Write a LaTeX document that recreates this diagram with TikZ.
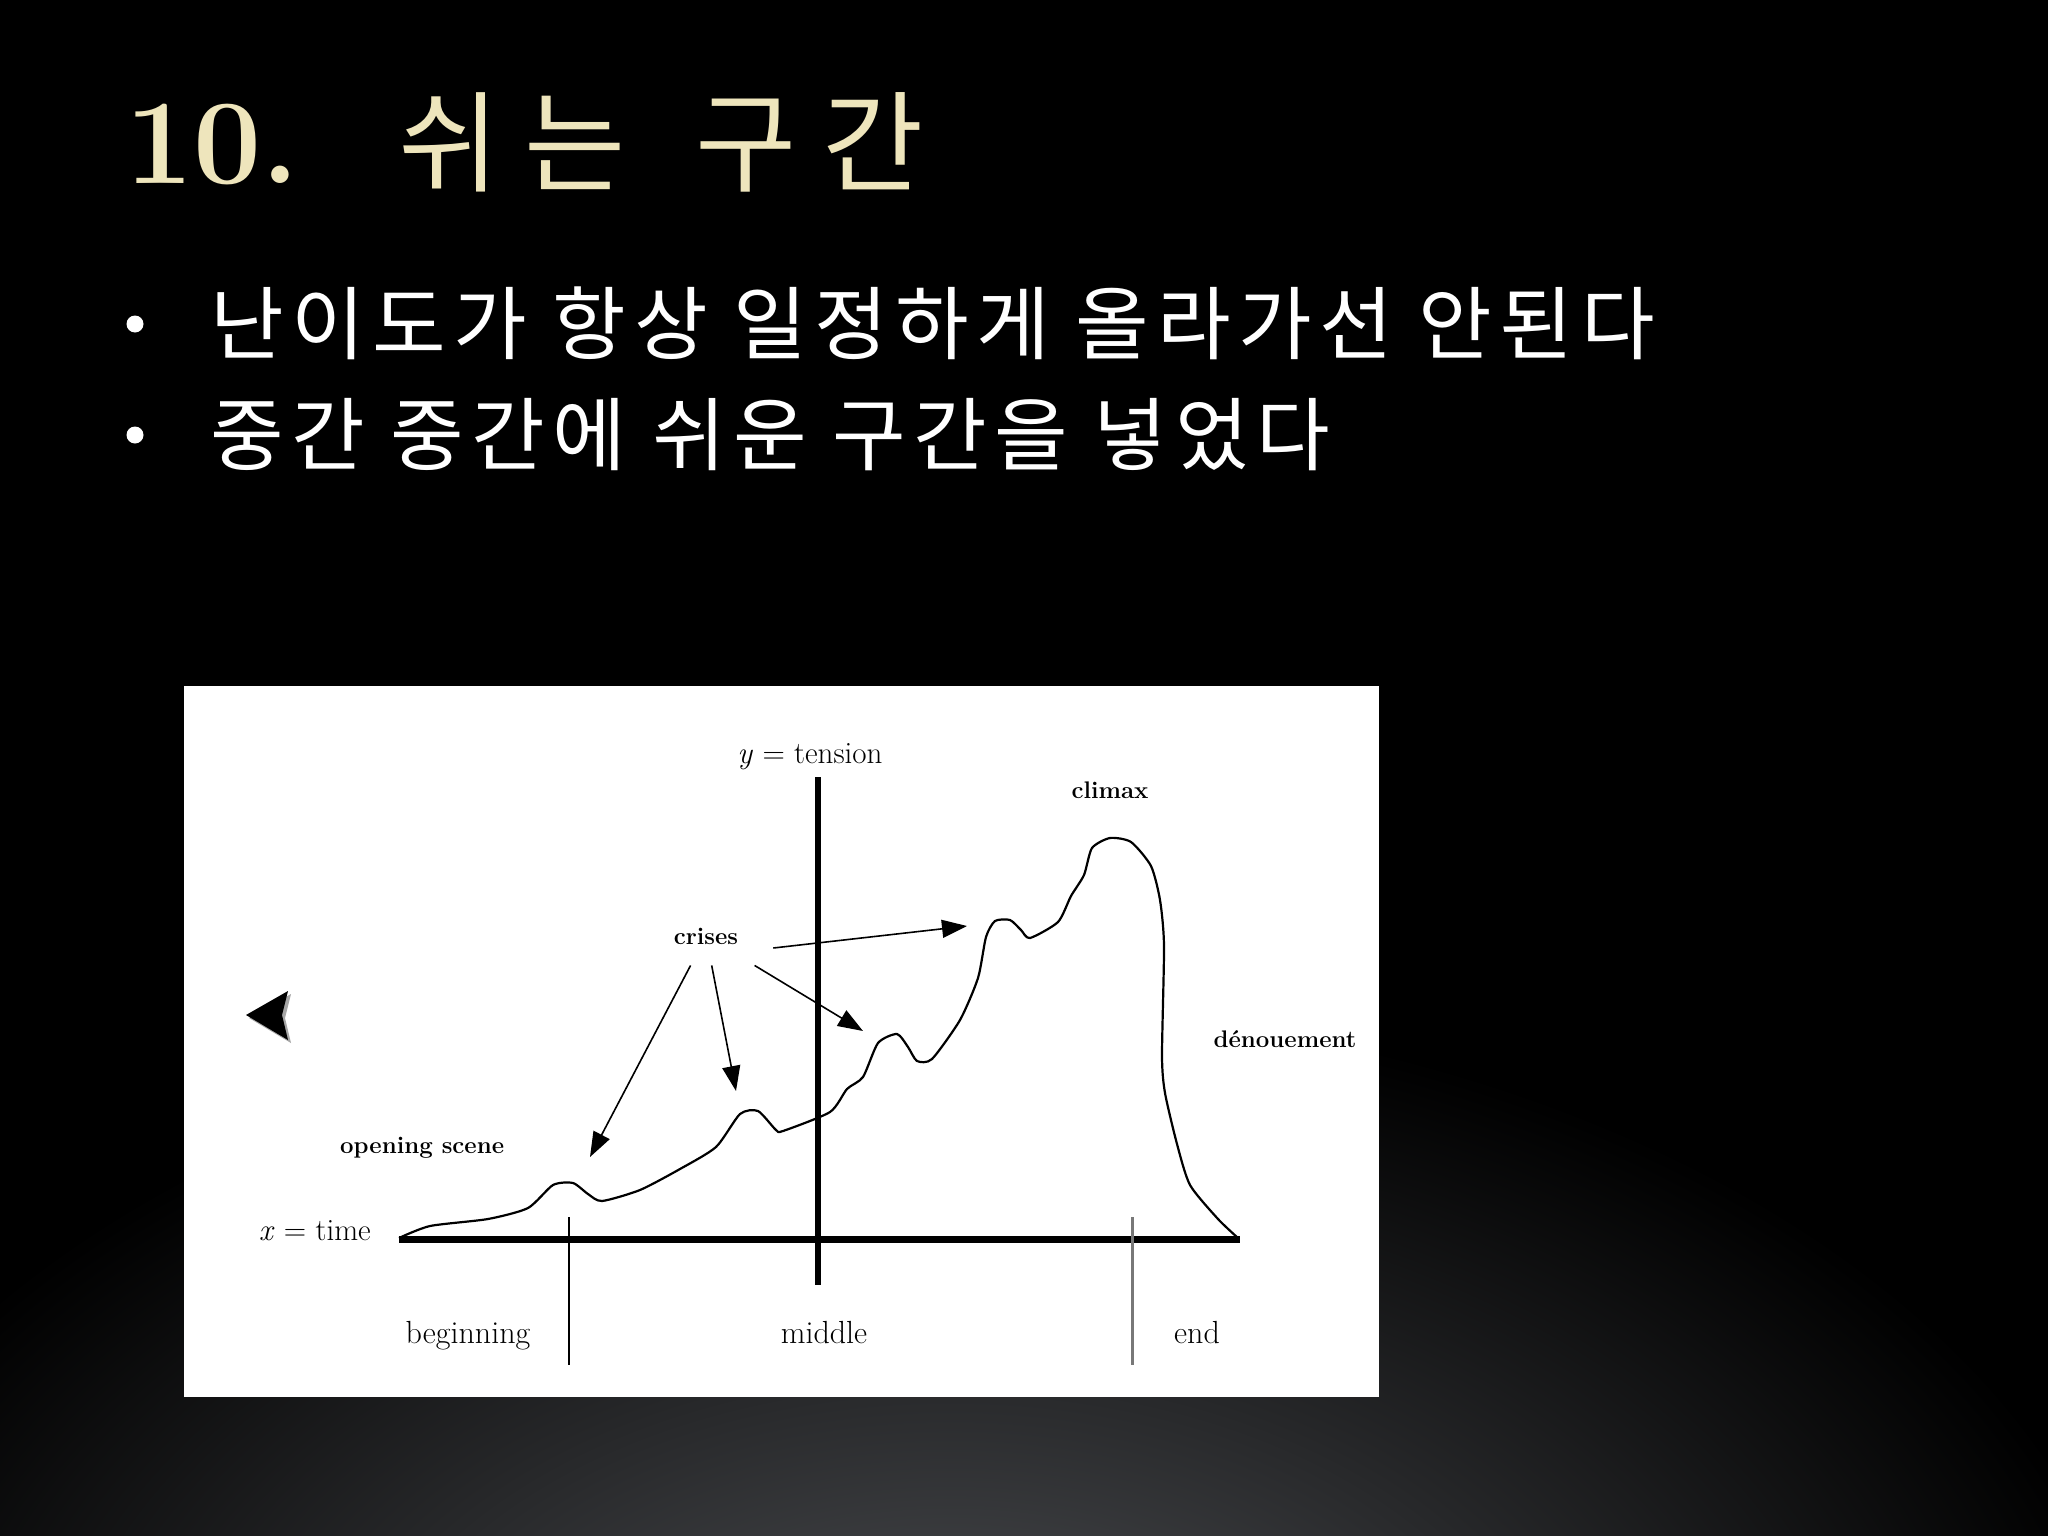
\documentclass[tikz,border=0pt]{standalone}
\usepackage{fontspec}
\newfontfamily\krtitle[LetterSpace=23, WordSpace=1.4]{Noto Sans CJK KR}
\newfontfamily\krfont[LetterSpace=9.5]{Noto Sans CJK KR}
\usetikzlibrary{arrows.meta, positioning}
\definecolor{titlegold}{RGB}{238,229,188}
\definecolor{smoke}{RGB}{80,82,86}
\definecolor{endgray}{RGB}{120,120,120}

\begin{document}
\begin{tikzpicture}[x=1pt, y=-1pt,
		every node/.style={inner sep=0pt},
		axislbl/.style={font=\fontsize{31}{36}\selectfont, anchor=base},
		note/.style={font=\bfseries\fontsize{24}{30}\selectfont, anchor=base},
		part/.style={font=\fontsize{32}{38}\selectfont, anchor=base},
		bullet/.style={circle, fill=white, minimum size=17pt},
		slideline/.style={text=white, font=\krfont\fontsize{80}{96}\selectfont, anchor=base west},
		crisis/.style={-{Triangle[length=25pt,width=18pt]}, line width=1.6pt},
		axis/.style={line width=7pt}]

	\useasboundingbox (0,0) rectangle (2048,1536);
	\fill[black] (0,0) rectangle (2048,1536);
	% smoky floor of the slide
	\begin{scope}
		\clip (0,0) rectangle (2048,1536);
		\shade[inner color=smoke, outer color=black] (950,1760) ellipse [x radius=1200pt, y radius=760pt];
	\end{scope}

	% title and bullets
	\node[text=titlegold, font=\bfseries\fontsize{121}{130}\selectfont, anchor=base west] (num) at (125,183) {10.};
	\node[text=titlegold, font=\krtitle\fontsize{110}{130}\selectfont, anchor=base west] (title) at (398,183) {쉬는 구간};
	\node[slideline] (line1) at (210,353) {난이도가 항상 일정하게 올라가선 안된다};
	\node[slideline] (line2) at (210,464) {중간 중간에 쉬운 구간을 넣었다};
	\node[bullet] (dot1) at (135,324) {};
	\node[bullet] (dot2) at (135,435) {};

	% the picture
	\fill[white] (184,686) rectangle (1379,1397);
	\fill[black!35] (249,1018) -- (291,994) -- (285,1018) -- (291,1043) -- cycle;
	\fill[black] (246,1015) -- (288,991) -- (282,1015) -- (288,1040) -- cycle;

	\coordinate (xstart) at (399,1239);
	\coordinate (xend) at (1240,1239);
	\coordinate (ytop) at (818,777);
	\coordinate (ybot) at (818,1285);
	\draw[axis] (xstart) -- (xend);
	\draw[line width=6pt] (ytop) -- (ybot);
	\draw[line width=2.2pt] (569,1217) -- (569,1365);
	\draw[line width=3pt, endgray] (1132,1217) -- (1132,1365);

	\draw[line width=2.2pt, line join=round] plot[smooth, tension=0.4] coordinates {
		(399,1238) (430,1226) (488,1219) (528,1208) (553,1185) (573,1183) (588,1194)
		(602,1201) (640,1190) (680,1169) (716,1147) (740,1114) (758,1111) (776,1130)
		(783,1131) (830,1112) (847,1089) (863,1077) (878,1043) (897,1034) (908,1047)
		(917,1061) (932,1059) (960,1020) (978,978) (986,937) (995,921) (1010,920)
		(1021,930) (1030,938) (1058,922) (1071,896) (1084,875) (1092,848) (1110,838)
		(1131,842) (1151,866) (1160,900) (1164,946) (1162,1056) (1165,1093) (1177,1144)
		(1190,1185) (1218,1219) (1238,1238)};

	\node[axislbl] (tension) at (810,763) {\textit{y} = tension};
	\node[axislbl, anchor=base east] (time) at (371,1240) {\textit{x} = time};
	\node[note, anchor=base west] (opening) at (340,1153) {opening scene};
	\node[note, anchor=center, inner sep=21pt] (crises) at (706,936) {crises};
	\node[note] (climax) at (1110,798) {climax};
	\node[note] (denouement) at (1285,1047) {dénouement};
	\node[part] (beginning) at (468,1343) {beginning};
	\node[part] (middle) at (824,1343) {middle};
	\node[part] (endlbl) at (1197,1343) {end};

	\coordinate (tipA) at (590,1157);
	\coordinate (tipB) at (736,1091);
	\coordinate (tipC) at (863,1031);
	\coordinate (tipD) at (967,926);
	\draw[crisis] (crises) -- (tipA);
	\draw[crisis] (crises) -- (tipB);
	\draw[crisis] (crises) -- (tipC);
	\draw[crisis] ([xshift=14pt,yshift=-12pt]crises.east) -- (tipD);

\end{tikzpicture}
\end{document}
